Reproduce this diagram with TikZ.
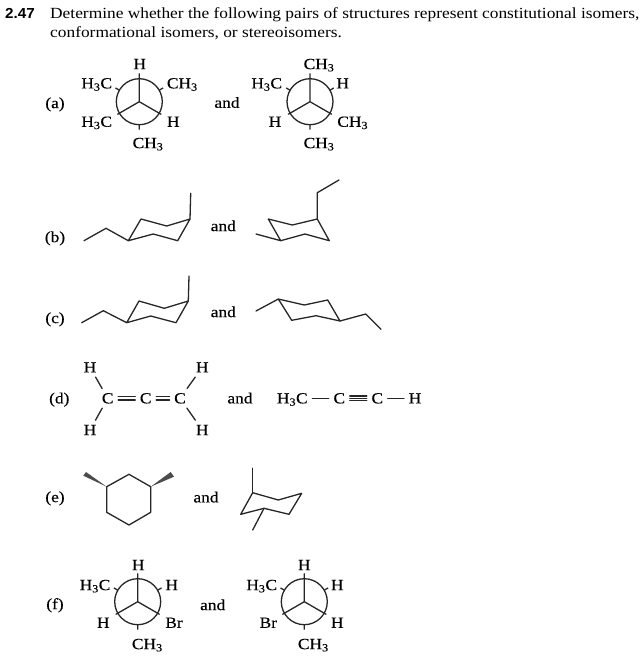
\documentclass[tikz,border=0pt]{standalone}
\usepackage{fontspec}
\setmainfont[FakeStretch=1.12]{Liberation Serif}
\newfontfamily\labfont[FakeStretch=1.12,FakeBold=0.3]{Liberation Serif}
\newfontfamily\numfont[FakeStretch=1.05]{Liberation Sans Bold}
\tikzset{
  bond/.style={line width=1.3pt,line cap=round,line join=round,black!85},
  stub/.style={line width=1.3pt,black!85},
  upper/.style={transform canvas={yshift=1.7pt}},
  lower/.style={transform canvas={yshift=-1.7pt}},
  upper3/.style={transform canvas={yshift=2.4pt}},
  lower3/.style={transform canvas={yshift=-2.4pt}},
  lab/.style={inner sep=0pt,text height=10.2pt,text depth=0pt,font=\fontsize{15.5}{15.5}\labfont},
  atom/.style={lab,inner sep=4.5pt},
  head/.style={inner sep=0pt,anchor=base west,font=\fontsize{15.5}{15.5}\selectfont}
}
% newman projection: centre name, x, y
\newcommand{\newman}[3]{
  \coordinate (#1) at (#2,#3);
  \draw[bond] (#1) circle (23);
  \draw[bond] (#1) -- ++(270:28) (#1) -- ++(150:25) (#1) -- ++(30:25);
  \draw[stub] (#1) ++(330:23) -- ++(330:4.5) (#1) ++(210:23) -- ++(210:4.5) (#1) ++(90:23) -- ++(90:5);
}
\begin{document}
\begin{tikzpicture}[x=1pt,y=-1pt]
  \useasboundingbox (0,0) rectangle (641,657);
  \node[inner sep=0pt,anchor=base west,font=\fontsize{14.5}{14.5}\numfont] (num) at (5,18) {2.47};
  \node[head] (head1) at (50,18) {Determine whether the following pairs of structures represent constitutional isomers,};
  \node[head] (head2) at (50,37) {conformational isomers, or stereoisomers.};
  % (a)
  \node[lab] (taga) at (55,103) {(a)};
  \newman{na}{139.3}{101.7}
  \node[lab] (a1) at (139.7,64) {H};
  \node[lab] (a2) at (96.7,83.3) {H\textsubscript{3}C};
  \node[lab] (a3) at (182.3,83.3) {CH\textsubscript{3}};
  \node[lab] (a4) at (96.7,121.7) {H\textsubscript{3}C};
  \node[lab] (a5) at (173.3,121.7) {H};
  \node[lab] (a6) at (148,143) {CH\textsubscript{3}};
  \node[lab] (anda) at (227,102.7) {and};
  \newman{nb}{310}{101.7}
  \node[lab] (b1) at (319,64) {CH\textsubscript{3}};
  \node[lab] (b2) at (266.7,83.3) {H\textsubscript{3}C};
  \node[lab] (b3) at (342.7,83.3) {H};
  \node[lab] (b4) at (275,121.7) {H};
  \node[lab] (b5) at (352.7,121.7) {CH\textsubscript{3}};
  \node[lab] (b6) at (319,143) {CH\textsubscript{3}};
  % (b)
  \node[lab] (tagb) at (55,237) {(b)};
  \coordinate (c0) at (84,240.7);
  \coordinate (c1) at (106,228.3);
  \coordinate (c2) at (128.3,240.7);
  \coordinate (c3) at (141,219);
  \coordinate (c4) at (166.7,226);
  \coordinate (c5) at (190,219);
  \coordinate (c6) at (177.7,240.7);
  \coordinate (c7) at (153.3,234);
  \coordinate (c8) at (190.7,193.3);
  \draw[bond] (c0) -- (c1) -- (c2) -- (c3) -- (c4) -- (c5) -- (c6) -- (c7) -- (c2);
  \draw[bond] (c5) -- (c8);
  \node[lab] (andb) at (223.3,226) {and};
  \coordinate (d0) at (256,234);
  \coordinate (d1) at (280.7,240.7);
  \coordinate (d2) at (268.3,219);
  \coordinate (d3) at (292.3,225);
  \coordinate (d4) at (317.3,219);
  \coordinate (d5) at (329.3,240.7);
  \coordinate (d6) at (305,234);
  \coordinate (d7) at (317.3,192.7);
  \coordinate (d8) at (339,180);
  \draw[bond] (d0) -- (d1) -- (d2) -- (d3) -- (d4) -- (d5) -- (d6) -- (d1);
  \draw[bond] (d4) -- (d7) -- (d8);
  % (c)
  \node[lab] (tagc) at (55,318) {(c)};
  \coordinate (e0) at (81.7,322.7);
  \coordinate (e1) at (103.3,310.7);
  \coordinate (e2) at (126.7,322.7);
  \coordinate (e3) at (139,301);
  \coordinate (e4) at (164.3,308.3);
  \coordinate (e5) at (188.3,301);
  \coordinate (e6) at (176,322.7);
  \coordinate (e7) at (150.7,316);
  \coordinate (e8) at (189,276);
  \draw[bond] (e0) -- (e1) -- (e2) -- (e3) -- (e4) -- (e5) -- (e6) -- (e7) -- (e2);
  \draw[bond] (e5) -- (e8);
  \node[lab] (andc) at (223.3,312) {and};
  \coordinate (f0) at (256,311);
  \coordinate (f1) at (278.3,299);
  \coordinate (f2) at (304.3,305);
  \coordinate (f3) at (327.7,300);
  \coordinate (f4) at (340,321);
  \coordinate (f5) at (316,315.7);
  \coordinate (f6) at (291.7,320.3);
  \coordinate (f7) at (365.7,314);
  \coordinate (f8) at (381,329.3);
  \draw[bond] (f0) -- (f1) -- (f2) -- (f3) -- (f4) -- (f5) -- (f6) -- (f1);
  \draw[bond] (f4) -- (f7) -- (f8);
  % (d)
  \node[lab] (tagd) at (59.3,398.3) {(d)};
  \node[atom] (g1) at (90,367.3) {H};
  \node[atom] (g2) at (90,430) {H};
  \node[atom] (g3) at (202.3,367.3) {H};
  \node[atom] (g4) at (202.3,430) {H};
  \node[atom] (g5) at (107.7,398.3) {C};
  \node[atom] (g6) at (145.7,398.3) {C};
  \node[atom] (g7) at (180,398.3) {C};
  \draw[bond] (g1) -- (g5);
  \draw[bond] (g2) -- (g5);
  \draw[bond] (g3) -- (g7);
  \draw[bond] (g4) -- (g7);
  \draw[bond,upper] (g5) -- (g6);
  \draw[bond,lower] (g5) -- (g6);
  \draw[bond,upper] (g6) -- (g7);
  \draw[bond,lower] (g6) -- (g7);
  \node[lab] (andd) at (240,398.3) {and};
  \node[atom] (h1) at (292.3,398.3) {H\textsubscript{3}C};
  \node[atom] (h2) at (339.3,398.3) {C};
  \node[atom] (h3) at (377.3,398.3) {C};
  \node[atom] (h4) at (415,398.3) {H};
  \draw[bond] (h1) -- (h2);
  \draw[bond,upper3] (h2) -- (h3);
  \draw[bond] (h2) -- (h3);
  \draw[bond,lower3] (h2) -- (h3);
  \draw[bond] (h3) -- (h4);
  % (e)
  \node[lab] (tage) at (55,497) {(e)};
  \coordinate (i1) at (106.7,486.7);
  \coordinate (i2) at (129,474.3);
  \coordinate (i3) at (150.7,486.7);
  \coordinate (i4) at (150.7,512.3);
  \coordinate (i5) at (129,525);
  \coordinate (i6) at (106.7,512.3);
  \draw[bond] (i1) -- (i2) -- (i3) -- (i4) -- (i5) -- (i6) -- cycle;
  \coordinate (w1) at (83.3,475.7);
  \coordinate (w2) at (86,472);
  \coordinate (w3) at (170.7,472);
  \coordinate (w4) at (174,476.7);
  \fill[black!70] (i1) -- (w1) -- (w2) -- cycle;
  \fill[black!70] (i3) -- (w3) -- (w4) -- cycle;
  \node[lab] (ande) at (206,497.3) {and};
  \coordinate (j1) at (252.7,492.7);
  \coordinate (j2) at (278.3,500);
  \coordinate (j3) at (301.7,493.3);
  \coordinate (j4) at (289,514.3);
  \coordinate (j5) at (264,508.3);
  \coordinate (j6) at (240.7,514.3);
  \coordinate (j7) at (252.7,468.3);
  \coordinate (j8) at (252.7,530);
  \draw[bond] (j1) -- (j2) -- (j3) -- (j4) -- (j5) -- (j6) -- cycle;
  \draw[bond] (j1) -- (j7);
  \draw[bond] (j5) -- (j8);
  % (f)
  \node[lab] (tagf) at (55,604) {(f)};
  \newman{nc}{137.7}{601.7}
  \node[lab] (k1) at (138.3,565) {H};
  \node[lab] (k2) at (95,585) {H\textsubscript{3}C};
  \node[lab] (k3) at (171.7,585) {H};
  \node[lab] (k4) at (103.3,622.7) {H};
  \node[lab] (k5) at (174,622.7) {Br};
  \node[lab] (k6) at (147.3,644) {CH\textsubscript{3}};
  \node[lab] (andf) at (212.7,605) {and};
  \newman{nd}{304.3}{601.7}
  \node[lab] (l1) at (304.3,565) {H};
  \node[lab] (l2) at (261.7,585) {H\textsubscript{3}C};
  \node[lab] (l3) at (337.3,585) {H};
  \node[lab] (l4) at (268.3,622.7) {Br};
  \node[lab] (l5) at (337.3,622.7) {H};
  \node[lab] (l6) at (313.3,644) {CH\textsubscript{3}};
\end{tikzpicture}
\end{document}
